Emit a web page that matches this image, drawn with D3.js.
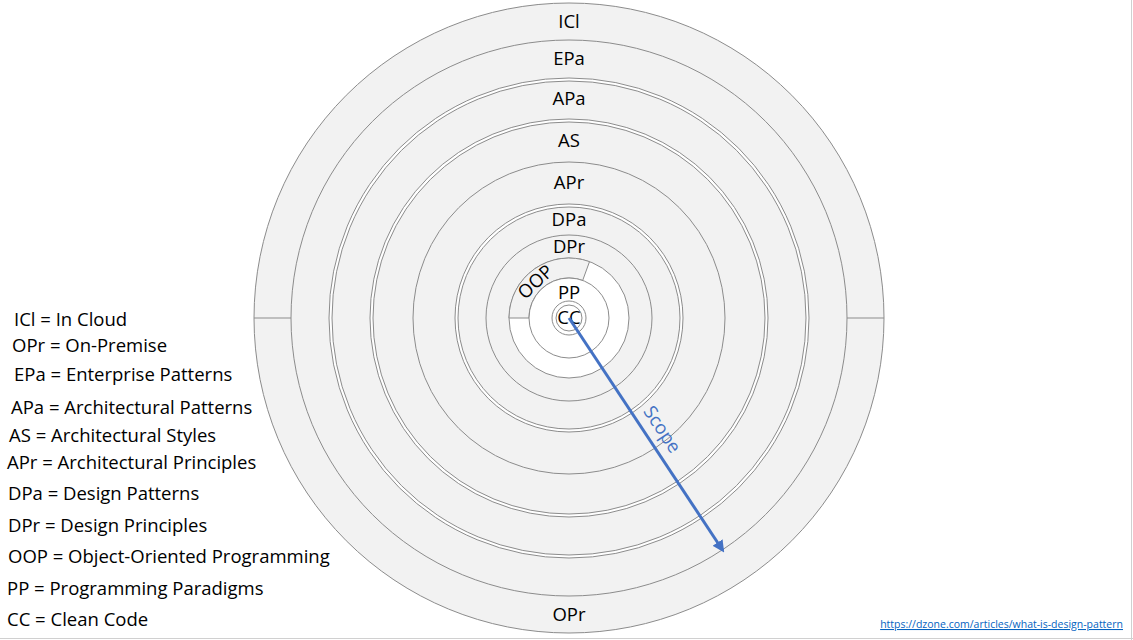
<!DOCTYPE html>
<html><head><meta charset="utf-8">
<script src="https://cdn.jsdelivr.net/npm/d3@7"></script>
<style>body{margin:0;background:#fff;}svg{display:block;font-family:"Open Sans","Liberation Sans",sans-serif;}</style>
</head><body>
<svg id="c" width="1133" height="640"></svg>
<script>
const ringNames = ["ICl","EPa","APa","AS","APr","DPa","DPr","OOP","PP","CC"];
const ringRadius = [315,278,240,199,156,114,83,60,40,17];
const ringDouble = [false,false,true,true,false,true,false,false,false,true];
const legendItems = ["ICl = In Cloud","OPr = On-Premise","EPa = Enterprise Patterns","APa = Architectural Patterns","AS = Architectural Styles","APr = Architectural Principles","DPa = Design Patterns","DPr = Design Principles","OOP = Object-Oriented Programming","PP = Programming Paradigms","CC = Clean Code"];
const legendY = [320,346,375,408,436,463,494,526,557,589,620];
const legendX = [14,12,14,11,9,7,8,8,8,7,7];
const scopeEnd = [0.885]; // fraction of outer radius reached by Scope arrow
const scopeAngle = 146.5; // degrees clockwise from top

const svg = d3.select("#c");
const cx = 569, cy = 318;
const r = d3.scaleLinear().domain([0,1]).range([0,1]);
const g = svg.append("g").attr("transform",`translate(${cx},${cy})`);
const grey="#f2f2f2", line="#8c8c8c";
const fs = 18.5;

ringNames.forEach((n,i)=>{
  const R = r(ringRadius[i]);
  if(n==="OOP"){
    g.append("circle").attr("r",R).attr("fill","#fff").attr("stroke",line);
    const arc = d3.arc().innerRadius(r(ringRadius[i+1])).outerRadius(R).startAngle(-Math.PI/2).endAngle(20*Math.PI/180);
    g.append("path").attr("d",arc()).attr("fill",grey).attr("stroke",line);
    return;
  }
  if(n==="PP"){ g.append("circle").attr("r",R).attr("fill","#fff").attr("stroke",line); return; }
  if(n==="CC"){
    g.append("circle").attr("r",R).attr("fill","#fff").attr("stroke",line);
    g.append("circle").attr("r",R-4).attr("fill","#fff").attr("stroke",line);
    return;
  }
  if(ringDouble[i]){
    g.append("circle").attr("r",R).attr("fill","#fff").attr("stroke",line);
    g.append("circle").attr("r",R-3).attr("fill",grey).attr("stroke",line);
  } else {
    g.append("circle").attr("r",R).attr("fill",grey).attr("stroke",line);
  }
});
[-1,1].forEach(s=>g.append("line").attr("x1",s*r(ringRadius[1])).attr("x2",s*r(ringRadius[0])).attr("y1",0).attr("y2",0).attr("stroke",line));

ringNames.forEach((n,i)=>{
  if(n==="CC"){ g.append("text").attr("x",0).attr("y",6).attr("text-anchor","middle").attr("font-size",fs).text(n); return; }
  if(n==="OOP"){
    const m=(ringRadius[i]+ringRadius[i+1])/2;
    const a=-43*Math.PI/180;
    g.append("text").attr("transform",`translate(${m*Math.sin(a)},${-m*Math.cos(a)}) rotate(-43)`).attr("text-anchor","middle").attr("dy",7).attr("font-size",fs).text(n);
    return;
  }
  const m = n==="PP" ? 25 : (ringRadius[i]+ringRadius[i+1])/2;
  g.append("text").attr("x",0).attr("y",-m).attr("dy",6).attr("text-anchor","middle").attr("font-size",fs).text(n);
});
g.append("text").attr("x",0).attr("y",(ringRadius[0]+ringRadius[1])/2).attr("dy",6).attr("text-anchor","middle").attr("font-size",fs).text("OPr");

svg.append("defs").append("marker").attr("id","ah").attr("viewBox","0 0 10 10").attr("refX",8).attr("refY",5)
  .attr("markerWidth",4).attr("markerHeight",4).attr("orient","auto").append("path").attr("d","M0,0L10,5L0,10z").attr("fill","#4472c4");
const a = scopeAngle*Math.PI/180, L = scopeEnd[0]*ringRadius[0];
g.append("line").attr("x1",0).attr("y1",0).attr("x2",L*Math.sin(a)).attr("y2",-L*Math.cos(a))
  .attr("stroke","#4472c4").attr("stroke-width",3).attr("marker-end","url(#ah)");
const lm = L*0.52;
g.append("text").attr("transform",`translate(${lm*Math.sin(a)+8},${-lm*Math.cos(a)-6}) rotate(${scopeAngle-90})`)
  .attr("text-anchor","middle").attr("font-size",fs).attr("fill","#4472c4").text("Scope");

svg.selectAll("text.leg").data(legendItems).join("text").attr("class","leg")
  .attr("x",(d,i)=>legendX[i]).attr("y",(d,i)=>legendY[i]+6).attr("font-size",fs).attr("fill","#000").text(d=>d);

svg.append("text").attr("x",1123).attr("y",628).attr("text-anchor","end").attr("font-size",10.5).attr("fill","#0563c1")
  .attr("text-decoration","underline").text("https://dzone.com/articles/what-is-design-pattern");
svg.append("line").attr("x1",0).attr("x2",1133).attr("y1",638.5).attr("y2",638.5).attr("stroke","#d0d0d0");
svg.append("line").attr("x1",1131.5).attr("x2",1131.5).attr("y1",0).attr("y2",640).attr("stroke","#d0d0d0");
</script></body></html>
